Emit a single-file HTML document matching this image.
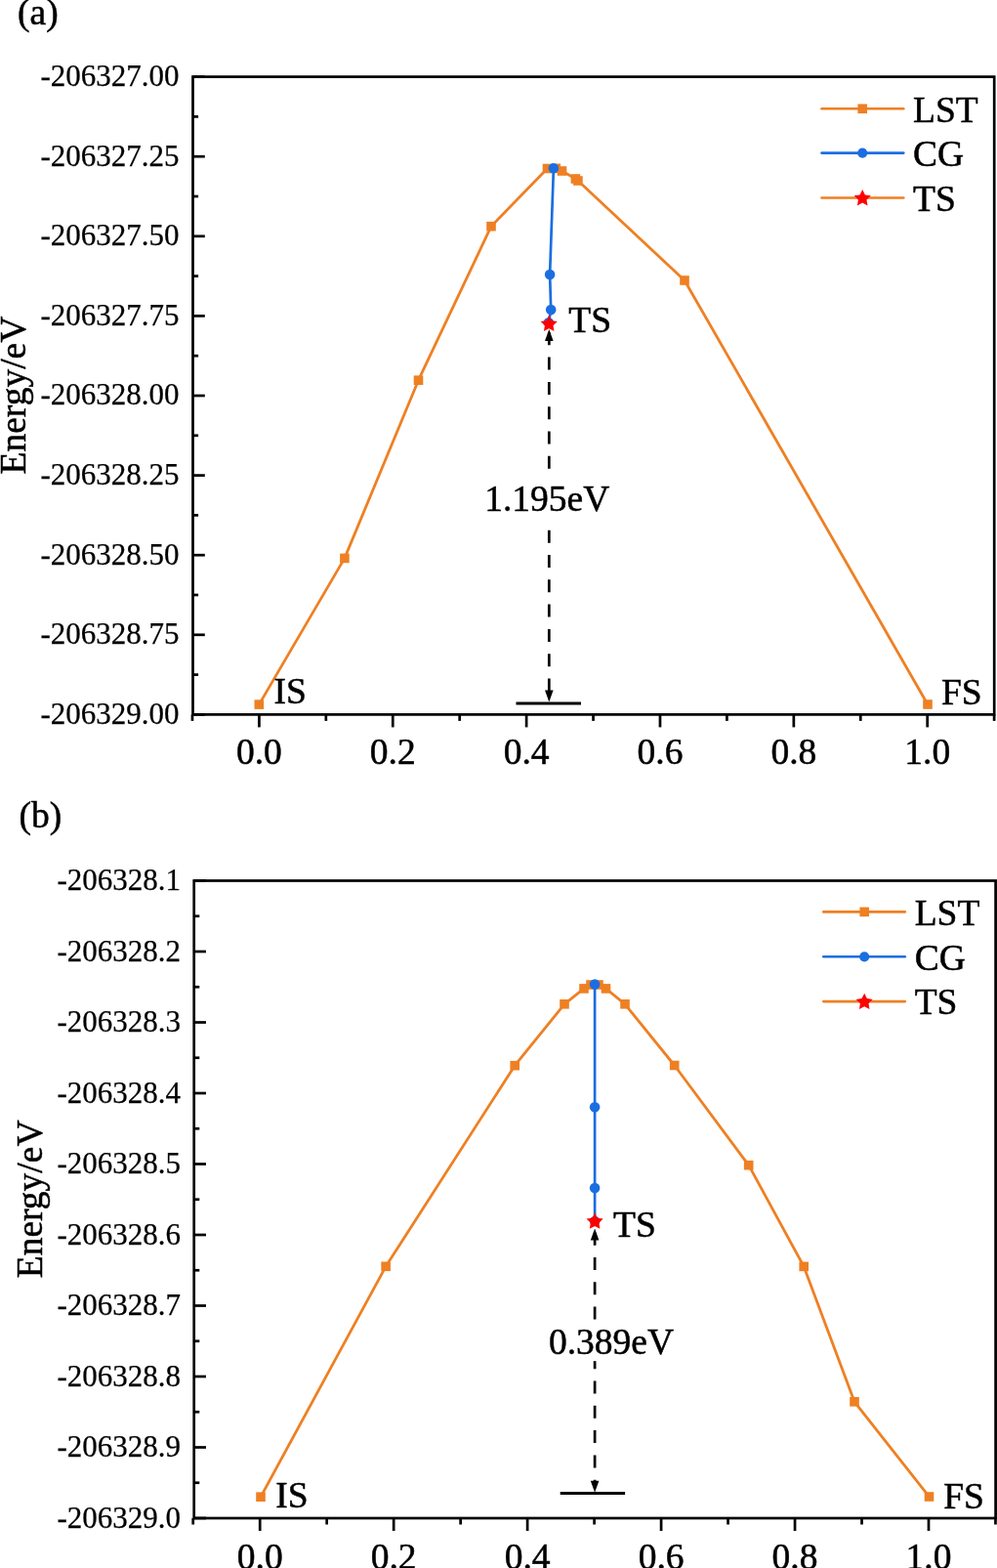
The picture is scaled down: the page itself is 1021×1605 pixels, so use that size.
<!DOCTYPE html>
<html><head><meta charset="utf-8"><title>Energy profile</title>
<style>
html,body{margin:0;padding:0;background:#fff;}
body{width:1021px;height:1605px;overflow:hidden;}
svg{display:block;}
text{font-family:'Liberation Serif', 'Times New Roman', serif;fill:#000;stroke:#000;stroke-width:0.5px;}
</style></head>
<body>
<svg width="1021" height="1605" viewBox="0 0 1021 1605">
<rect width="1021" height="1605" fill="#fff"/>
<rect x="197.5" y="78.6" width="820.7" height="652.8" fill="none" stroke="#000" stroke-width="2.7"/>
<line x1="197.5" y1="78.60" x2="209.8" y2="78.60" stroke="#000" stroke-width="2.7"/>
<line x1="197.5" y1="119.40" x2="203.1" y2="119.40" stroke="#000" stroke-width="2.7"/>
<text x="183.5" y="87.90" font-size="31" text-anchor="end" style="stroke-width:0.25px">-206327.00</text>
<line x1="197.5" y1="160.20" x2="209.8" y2="160.20" stroke="#000" stroke-width="2.7"/>
<line x1="197.5" y1="201.00" x2="203.1" y2="201.00" stroke="#000" stroke-width="2.7"/>
<text x="183.5" y="169.50" font-size="31" text-anchor="end" style="stroke-width:0.25px">-206327.25</text>
<line x1="197.5" y1="241.80" x2="209.8" y2="241.80" stroke="#000" stroke-width="2.7"/>
<line x1="197.5" y1="282.60" x2="203.1" y2="282.60" stroke="#000" stroke-width="2.7"/>
<text x="183.5" y="251.10" font-size="31" text-anchor="end" style="stroke-width:0.25px">-206327.50</text>
<line x1="197.5" y1="323.40" x2="209.8" y2="323.40" stroke="#000" stroke-width="2.7"/>
<line x1="197.5" y1="364.20" x2="203.1" y2="364.20" stroke="#000" stroke-width="2.7"/>
<text x="183.5" y="332.70" font-size="31" text-anchor="end" style="stroke-width:0.25px">-206327.75</text>
<line x1="197.5" y1="405.00" x2="209.8" y2="405.00" stroke="#000" stroke-width="2.7"/>
<line x1="197.5" y1="445.80" x2="203.1" y2="445.80" stroke="#000" stroke-width="2.7"/>
<text x="183.5" y="414.30" font-size="31" text-anchor="end" style="stroke-width:0.25px">-206328.00</text>
<line x1="197.5" y1="486.60" x2="209.8" y2="486.60" stroke="#000" stroke-width="2.7"/>
<line x1="197.5" y1="527.40" x2="203.1" y2="527.40" stroke="#000" stroke-width="2.7"/>
<text x="183.5" y="495.90" font-size="31" text-anchor="end" style="stroke-width:0.25px">-206328.25</text>
<line x1="197.5" y1="568.20" x2="209.8" y2="568.20" stroke="#000" stroke-width="2.7"/>
<line x1="197.5" y1="609.00" x2="203.1" y2="609.00" stroke="#000" stroke-width="2.7"/>
<text x="183.5" y="577.50" font-size="31" text-anchor="end" style="stroke-width:0.25px">-206328.50</text>
<line x1="197.5" y1="649.80" x2="209.8" y2="649.80" stroke="#000" stroke-width="2.7"/>
<line x1="197.5" y1="690.60" x2="203.1" y2="690.60" stroke="#000" stroke-width="2.7"/>
<text x="183.5" y="659.10" font-size="31" text-anchor="end" style="stroke-width:0.25px">-206328.75</text>
<line x1="197.5" y1="731.40" x2="209.8" y2="731.40" stroke="#000" stroke-width="2.7"/>
<text x="183.5" y="740.70" font-size="31" text-anchor="end" style="stroke-width:0.25px">-206329.00</text>
<line x1="196.97" y1="731.4" x2="196.97" y2="737.9" stroke="#000" stroke-width="2.7"/>
<line x1="265.40" y1="731.4" x2="265.40" y2="744.4" stroke="#000" stroke-width="2.7"/>
<text x="265.40" y="782" font-size="37.5" text-anchor="middle">0.0</text>
<line x1="333.83" y1="731.4" x2="333.83" y2="737.9" stroke="#000" stroke-width="2.7"/>
<line x1="402.26" y1="731.4" x2="402.26" y2="744.4" stroke="#000" stroke-width="2.7"/>
<text x="402.26" y="782" font-size="37.5" text-anchor="middle">0.2</text>
<line x1="470.69" y1="731.4" x2="470.69" y2="737.9" stroke="#000" stroke-width="2.7"/>
<line x1="539.12" y1="731.4" x2="539.12" y2="744.4" stroke="#000" stroke-width="2.7"/>
<text x="539.12" y="782" font-size="37.5" text-anchor="middle">0.4</text>
<line x1="607.55" y1="731.4" x2="607.55" y2="737.9" stroke="#000" stroke-width="2.7"/>
<line x1="675.98" y1="731.4" x2="675.98" y2="744.4" stroke="#000" stroke-width="2.7"/>
<text x="675.98" y="782" font-size="37.5" text-anchor="middle">0.6</text>
<line x1="744.41" y1="731.4" x2="744.41" y2="737.9" stroke="#000" stroke-width="2.7"/>
<line x1="812.84" y1="731.4" x2="812.84" y2="744.4" stroke="#000" stroke-width="2.7"/>
<text x="812.84" y="782" font-size="37.5" text-anchor="middle">0.8</text>
<line x1="881.27" y1="731.4" x2="881.27" y2="737.9" stroke="#000" stroke-width="2.7"/>
<line x1="949.70" y1="731.4" x2="949.70" y2="744.4" stroke="#000" stroke-width="2.7"/>
<text x="949.70" y="782" font-size="37.5" text-anchor="middle">1.0</text>
<line x1="1018.13" y1="731.4" x2="1018.13" y2="737.9" stroke="#000" stroke-width="2.7"/>
<polyline points="265.30,721.10 352.90,571.40 428.50,389.20 503.00,231.70 560.50,172.50 569.30,172.30 575.50,175.00 589.40,183.00 591.90,185.00 701.00,287.00 950.00,721.00" fill="none" stroke="#EE8023" stroke-width="2.8" stroke-linejoin="round"/>
<rect x="260.50" y="716.30" width="9.6" height="9.6" fill="#EE8023"/>
<rect x="348.10" y="566.60" width="9.6" height="9.6" fill="#EE8023"/>
<rect x="423.70" y="384.40" width="9.6" height="9.6" fill="#EE8023"/>
<rect x="498.20" y="226.90" width="9.6" height="9.6" fill="#EE8023"/>
<rect x="555.70" y="167.70" width="9.6" height="9.6" fill="#EE8023"/>
<rect x="564.50" y="167.50" width="9.6" height="9.6" fill="#EE8023"/>
<rect x="570.70" y="170.20" width="9.6" height="9.6" fill="#EE8023"/>
<rect x="584.60" y="178.20" width="9.6" height="9.6" fill="#EE8023"/>
<rect x="587.10" y="180.20" width="9.6" height="9.6" fill="#EE8023"/>
<rect x="696.20" y="282.20" width="9.6" height="9.6" fill="#EE8023"/>
<rect x="945.20" y="716.20" width="9.6" height="9.6" fill="#EE8023"/>
<polyline points="566.90,172.30 563.10,281.00 564.20,317.10 561.90,330.30" fill="none" stroke="#1B6EE1" stroke-width="2.7" stroke-linejoin="round"/>
<circle cx="566.90" cy="172.30" r="5.3" fill="#1B6EE1"/>
<circle cx="563.10" cy="281.00" r="5.3" fill="#1B6EE1"/>
<circle cx="564.20" cy="317.10" r="5.3" fill="#1B6EE1"/>
<circle cx="561.90" cy="330.30" r="5.3" fill="#1B6EE1"/>
<polygon points="562.20,322.80 564.85,328.16 570.76,329.02 566.48,333.19 567.49,339.08 562.20,336.30 556.91,339.08 557.92,333.19 553.64,329.02 559.55,328.16" fill="#FF0000"/>
<line x1="562.3" y1="340.3" x2="562.3" y2="708" stroke="#000" stroke-width="2.7" stroke-dasharray="13 12.3"/>
<polygon points="562.3,337 558.0,349 566.5999999999999,349" fill="#000"/>
<polygon points="562.3,718.6 558.0,706.6 566.5999999999999,706.6" fill="#000"/>
<line x1="528.5" y1="720" x2="595" y2="720" stroke="#000" stroke-width="2.8"/>
<rect x="515.2" y="488.6" width="90" height="44" fill="#fff"/>
<text x="560.2" y="522.6" font-size="37.5" text-anchor="middle">1.195eV</text>
<text x="280.5" y="720.4" font-size="37.5">IS</text>
<text x="964" y="721.4" font-size="37.5">FS</text>
<text x="582.3" y="339.7" font-size="37.5">TS</text>
<line x1="841.5" y1="111.3" x2="925.3" y2="111.3" stroke="#EE8023" stroke-width="2.6" stroke-linecap="round"/>
<rect x="878.40" y="106.50" width="9.6" height="9.6" fill="#EE8023"/>
<text x="935" y="124.5" font-size="37.5">LST</text>
<line x1="841.5" y1="156.6" x2="925.3" y2="156.6" stroke="#1B6EE1" stroke-width="2.6" stroke-linecap="round"/>
<circle cx="883.20" cy="156.60" r="5.1" fill="#1B6EE1"/>
<text x="935" y="169.79999999999998" font-size="37.5">CG</text>
<line x1="841.5" y1="202.5" x2="925.3" y2="202.5" stroke="#EE8023" stroke-width="2.6" stroke-linecap="round"/>
<polygon points="883.20,194.10 885.85,199.46 891.76,200.32 887.48,204.49 888.49,210.38 883.20,207.60 877.91,210.38 878.92,204.49 874.64,200.32 880.55,199.46" fill="#FF0000"/>
<text x="935" y="215.7" font-size="37.5">TS</text>
<text x="26.1" y="404.6" font-size="37.5" text-anchor="middle" transform="rotate(-90 26.1 404.6)">Energy/eV</text>
<text x="18" y="24.7" font-size="37.5">(a)</text>
<rect x="198.7" y="901.5" width="820.9000000000001" height="652.5" fill="none" stroke="#000" stroke-width="2.7"/>
<line x1="198.7" y1="901.50" x2="211.0" y2="901.50" stroke="#000" stroke-width="2.7"/>
<line x1="198.7" y1="937.75" x2="204.29999999999998" y2="937.75" stroke="#000" stroke-width="2.7"/>
<text x="185" y="911.00" font-size="31" text-anchor="end" style="stroke-width:0.25px">-206328.1</text>
<line x1="198.7" y1="974.00" x2="211.0" y2="974.00" stroke="#000" stroke-width="2.7"/>
<line x1="198.7" y1="1010.25" x2="204.29999999999998" y2="1010.25" stroke="#000" stroke-width="2.7"/>
<text x="185" y="983.50" font-size="31" text-anchor="end" style="stroke-width:0.25px">-206328.2</text>
<line x1="198.7" y1="1046.50" x2="211.0" y2="1046.50" stroke="#000" stroke-width="2.7"/>
<line x1="198.7" y1="1082.75" x2="204.29999999999998" y2="1082.75" stroke="#000" stroke-width="2.7"/>
<text x="185" y="1056.00" font-size="31" text-anchor="end" style="stroke-width:0.25px">-206328.3</text>
<line x1="198.7" y1="1119.00" x2="211.0" y2="1119.00" stroke="#000" stroke-width="2.7"/>
<line x1="198.7" y1="1155.25" x2="204.29999999999998" y2="1155.25" stroke="#000" stroke-width="2.7"/>
<text x="185" y="1128.50" font-size="31" text-anchor="end" style="stroke-width:0.25px">-206328.4</text>
<line x1="198.7" y1="1191.50" x2="211.0" y2="1191.50" stroke="#000" stroke-width="2.7"/>
<line x1="198.7" y1="1227.75" x2="204.29999999999998" y2="1227.75" stroke="#000" stroke-width="2.7"/>
<text x="185" y="1201.00" font-size="31" text-anchor="end" style="stroke-width:0.25px">-206328.5</text>
<line x1="198.7" y1="1264.00" x2="211.0" y2="1264.00" stroke="#000" stroke-width="2.7"/>
<line x1="198.7" y1="1300.25" x2="204.29999999999998" y2="1300.25" stroke="#000" stroke-width="2.7"/>
<text x="185" y="1273.50" font-size="31" text-anchor="end" style="stroke-width:0.25px">-206328.6</text>
<line x1="198.7" y1="1336.50" x2="211.0" y2="1336.50" stroke="#000" stroke-width="2.7"/>
<line x1="198.7" y1="1372.75" x2="204.29999999999998" y2="1372.75" stroke="#000" stroke-width="2.7"/>
<text x="185" y="1346.00" font-size="31" text-anchor="end" style="stroke-width:0.25px">-206328.7</text>
<line x1="198.7" y1="1409.00" x2="211.0" y2="1409.00" stroke="#000" stroke-width="2.7"/>
<line x1="198.7" y1="1445.25" x2="204.29999999999998" y2="1445.25" stroke="#000" stroke-width="2.7"/>
<text x="185" y="1418.50" font-size="31" text-anchor="end" style="stroke-width:0.25px">-206328.8</text>
<line x1="198.7" y1="1481.50" x2="211.0" y2="1481.50" stroke="#000" stroke-width="2.7"/>
<line x1="198.7" y1="1517.75" x2="204.29999999999998" y2="1517.75" stroke="#000" stroke-width="2.7"/>
<text x="185" y="1491.00" font-size="31" text-anchor="end" style="stroke-width:0.25px">-206328.9</text>
<line x1="198.7" y1="1554.00" x2="211.0" y2="1554.00" stroke="#000" stroke-width="2.7"/>
<text x="185" y="1563.50" font-size="31" text-anchor="end" style="stroke-width:0.25px">-206329.0</text>
<line x1="197.72" y1="1554" x2="197.72" y2="1560.5" stroke="#000" stroke-width="2.7"/>
<line x1="266.20" y1="1554" x2="266.20" y2="1567" stroke="#000" stroke-width="2.7"/>
<text x="266.20" y="1605.5" font-size="37.5" text-anchor="middle">0.0</text>
<line x1="334.68" y1="1554" x2="334.68" y2="1560.5" stroke="#000" stroke-width="2.7"/>
<line x1="403.16" y1="1554" x2="403.16" y2="1567" stroke="#000" stroke-width="2.7"/>
<text x="403.16" y="1605.5" font-size="37.5" text-anchor="middle">0.2</text>
<line x1="471.64" y1="1554" x2="471.64" y2="1560.5" stroke="#000" stroke-width="2.7"/>
<line x1="540.12" y1="1554" x2="540.12" y2="1567" stroke="#000" stroke-width="2.7"/>
<text x="540.12" y="1605.5" font-size="37.5" text-anchor="middle">0.4</text>
<line x1="608.60" y1="1554" x2="608.60" y2="1560.5" stroke="#000" stroke-width="2.7"/>
<line x1="677.08" y1="1554" x2="677.08" y2="1567" stroke="#000" stroke-width="2.7"/>
<text x="677.08" y="1605.5" font-size="37.5" text-anchor="middle">0.6</text>
<line x1="745.56" y1="1554" x2="745.56" y2="1560.5" stroke="#000" stroke-width="2.7"/>
<line x1="814.04" y1="1554" x2="814.04" y2="1567" stroke="#000" stroke-width="2.7"/>
<text x="814.04" y="1605.5" font-size="37.5" text-anchor="middle">0.8</text>
<line x1="882.52" y1="1554" x2="882.52" y2="1560.5" stroke="#000" stroke-width="2.7"/>
<line x1="951.00" y1="1554" x2="951.00" y2="1567" stroke="#000" stroke-width="2.7"/>
<text x="951.00" y="1605.5" font-size="37.5" text-anchor="middle">1.0</text>
<line x1="1019.48" y1="1554" x2="1019.48" y2="1560.5" stroke="#000" stroke-width="2.7"/>
<polyline points="267.00,1532.20 395.10,1296.30 527.20,1090.70 578.00,1027.80 598.00,1011.90 605.00,1008.00 613.00,1008.00 620.50,1011.90 640.00,1027.80 690.70,1090.50 766.70,1192.70 823.20,1296.40 875.00,1434.80 951.50,1532.00" fill="none" stroke="#EE8023" stroke-width="2.8" stroke-linejoin="round"/>
<rect x="262.20" y="1527.40" width="9.6" height="9.6" fill="#EE8023"/>
<rect x="390.30" y="1291.50" width="9.6" height="9.6" fill="#EE8023"/>
<rect x="522.40" y="1085.90" width="9.6" height="9.6" fill="#EE8023"/>
<rect x="573.20" y="1023.00" width="9.6" height="9.6" fill="#EE8023"/>
<rect x="593.20" y="1007.10" width="9.6" height="9.6" fill="#EE8023"/>
<rect x="600.20" y="1003.20" width="9.6" height="9.6" fill="#EE8023"/>
<rect x="608.20" y="1003.20" width="9.6" height="9.6" fill="#EE8023"/>
<rect x="615.70" y="1007.10" width="9.6" height="9.6" fill="#EE8023"/>
<rect x="635.20" y="1023.00" width="9.6" height="9.6" fill="#EE8023"/>
<rect x="685.90" y="1085.70" width="9.6" height="9.6" fill="#EE8023"/>
<rect x="761.90" y="1187.90" width="9.6" height="9.6" fill="#EE8023"/>
<rect x="818.40" y="1291.60" width="9.6" height="9.6" fill="#EE8023"/>
<rect x="870.20" y="1430.00" width="9.6" height="9.6" fill="#EE8023"/>
<rect x="946.70" y="1527.20" width="9.6" height="9.6" fill="#EE8023"/>
<polyline points="609.10,1007.60 609.10,1133.20 609.10,1216.10 609.10,1250.00" fill="none" stroke="#1B6EE1" stroke-width="2.7" stroke-linejoin="round"/>
<circle cx="609.10" cy="1007.60" r="5.3" fill="#1B6EE1"/>
<circle cx="609.10" cy="1133.20" r="5.3" fill="#1B6EE1"/>
<circle cx="609.10" cy="1216.10" r="5.3" fill="#1B6EE1"/>
<circle cx="609.10" cy="1250.00" r="5.3" fill="#1B6EE1"/>
<polygon points="609.10,1241.40 611.75,1246.76 617.66,1247.62 613.38,1251.79 614.39,1257.68 609.10,1254.90 603.81,1257.68 604.82,1251.79 600.54,1247.62 606.45,1246.76" fill="#FF0000"/>
<line x1="609.1" y1="1261.7" x2="609.1" y2="1517" stroke="#000" stroke-width="2.7" stroke-dasharray="13 12.3"/>
<polygon points="609.1,1257.6 604.8000000000001,1269.6 613.4,1269.6" fill="#000"/>
<polygon points="609.1,1527.7 604.8000000000001,1515.7 613.4,1515.7" fill="#000"/>
<line x1="573.7" y1="1528.5" x2="640.1" y2="1528.5" stroke="#000" stroke-width="2.8"/>
<rect x="581" y="1351.6" width="90" height="41.6" fill="#fff"/>
<text x="626" y="1385.6" font-size="37.5" text-anchor="middle">0.389eV</text>
<text x="282.3" y="1542.6" font-size="37.5">IS</text>
<text x="966.2" y="1543.6" font-size="37.5">FS</text>
<text x="628" y="1265.7" font-size="37.5">TS</text>
<line x1="843.3" y1="933.4" x2="926.8" y2="933.4" stroke="#EE8023" stroke-width="2.6" stroke-linecap="round"/>
<rect x="880.40" y="928.60" width="9.6" height="9.6" fill="#EE8023"/>
<text x="936.7" y="946.6" font-size="37.5">LST</text>
<line x1="843.3" y1="979.3" x2="926.8" y2="979.3" stroke="#1B6EE1" stroke-width="2.6" stroke-linecap="round"/>
<circle cx="885.20" cy="979.30" r="5.1" fill="#1B6EE1"/>
<text x="936.7" y="992.5" font-size="37.5">CG</text>
<line x1="843.3" y1="1025.1" x2="926.8" y2="1025.1" stroke="#EE8023" stroke-width="2.6" stroke-linecap="round"/>
<polygon points="885.20,1016.70 887.85,1022.06 893.76,1022.92 889.48,1027.09 890.49,1032.98 885.20,1030.20 879.91,1032.98 880.92,1027.09 876.64,1022.92 882.55,1022.06" fill="#FF0000"/>
<text x="936.7" y="1038.3" font-size="37.5">TS</text>
<text x="43.3" y="1227.4" font-size="37.5" text-anchor="middle" transform="rotate(-90 43.3 1227.4)">Energy/eV</text>
<text x="19.5" y="847.1" font-size="37.5">(b)</text>
</svg>
</body></html>
